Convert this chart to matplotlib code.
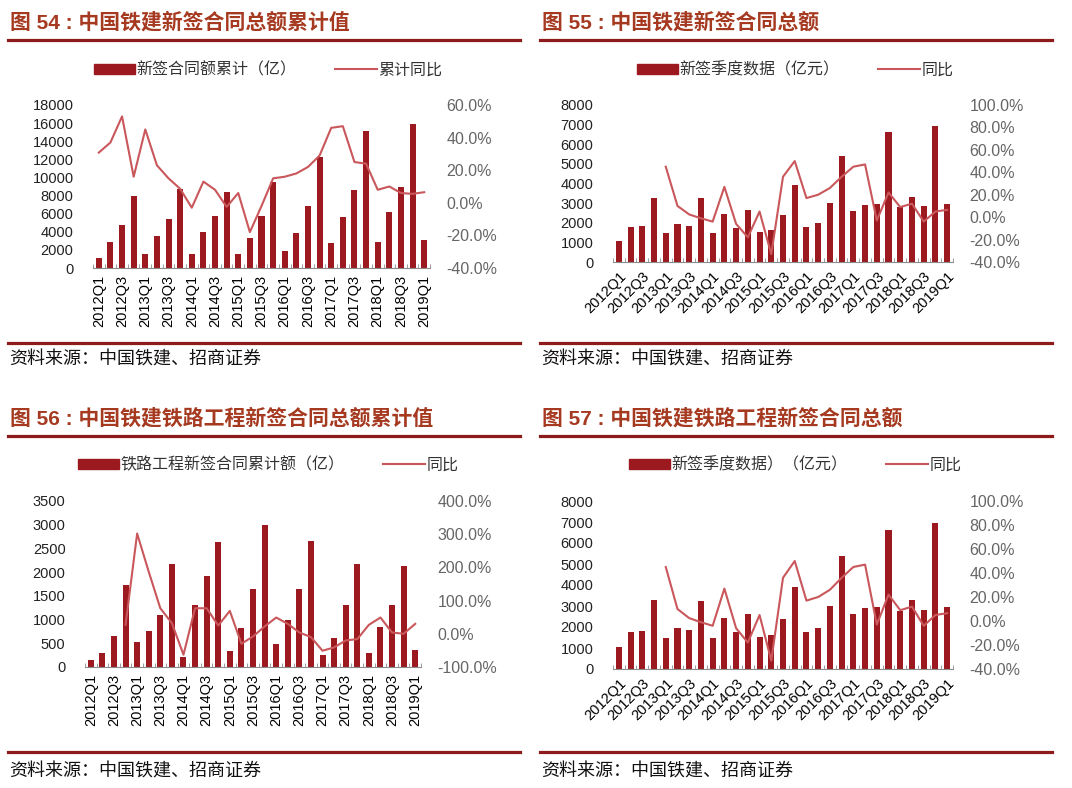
import numpy as np
import matplotlib
matplotlib.use("Agg")
import matplotlib.pyplot as plt
from matplotlib.patches import Patch
from matplotlib.lines import Line2D

plt.rcParams['font.family'] = ['Liberation Sans', 'Noto Sans CJK SC', 'DejaVu Sans']

# quarters 2012Q1 .. 2019Q1
quarters = [f"{y}Q{q}" for y in range(2012, 2020) for q in range(1, 5)][:29]

# fig 54: cumulative new contracts (亿) and cumulative yoy
cum_total = [1100, 2900, 4700, 8000, 1600, 3500, 5400, 8700, 1500, 4000, 5700, 8400,
             1600, 3300, 5700, 9500, 1900, 3900, 6900, 12300, 2750, 5600, 8600, 15100,
             2900, 6200, 9000, 15900, 3100]
cum_total_yoy = [30.8, 37, 53, 16, 45, 23, 15, 8.6, -3, 13, 8, -2.5,
                 6, -18, -2, 15, 16, 18, 22, 29, 46, 47, 25, 24,
                 8, 10, 6, 5.5, 6.5]

# fig 55 / 57: quarterly new contracts (亿元) and yoy
qtr_total = [1050, 1760, 1830, 3270, 1500, 1930, 1850, 3250, 1460, 2440, 1750, 2640,
             1530, 1610, 2390, 3920, 1760, 1970, 3020, 5390, 2610, 2900, 2930, 6600,
             2780, 3300, 2830, 6930, 2970]
qtr_total_yoy = [np.nan, np.nan, np.nan, np.nan, 45, 10, 2.4, -1, -4, 27, -6, -18,
                 5, -33, 36, 50, 17, 20, 26, 36, 45, 47, -3, 22,
                 9, 12, -4, 5, 6.5]

# fig 56: railway cumulative new contracts (亿) and yoy
rail_cum = [150, 290, 650, 1730, 520, 760, 1100, 2170, 210, 1300, 1920, 2630,
            343, 826, 1645, 3000, 483, 994, 1652, 2660, 245, 602, 1302, 2170,
            300, 847, 1302, 2135, 364]
rail_cum_yoy = [np.nan, np.nan, np.nan, 27, 302, 187, 77, 32, -63, 77, 77, 25,
                69, -30, -8, 22, 49, 30, 4, -10, -51, -41, -20, -16,
                27, 49, 4, 0, 30]

BAR = '#9C1A1F'
LINE = '#C9575B'
TITLE = '#A63A21'
RULE = '#8E1B1B'

W, H = 1072, 788
fig = plt.figure(figsize=(W / 100, H / 100), dpi=100)


def fx(x):
    return x / W


def fy(y):
    return 1 - y / H


def panel(x0, x1, y0, ytop, bars, yoy, ylim, ystep, rlim, rstep, rot, title, bar_lab, line_lab,
          px_left, title_y, rule_top, leg_x, leg_y, rule_bot, src_y):
    # title + rules
    fig.text(fx(px_left + 2), fy(title_y), title, fontsize=15, fontweight='bold', color=TITLE,
             family=['Liberation Sans', 'Noto Sans CJK SC'], va='center', ha='left')
    fig.add_artist(Line2D([fx(px_left), fx(px_left + 512)], [fy(rule_top)] * 2, color=RULE, lw=2.3))
    fig.add_artist(Line2D([fx(px_left), fx(px_left + 512)], [fy(rule_bot)] * 2, color=RULE, lw=2.3))
    fig.text(fx(px_left + 1), fy(src_y), '资料来源：中国铁建、招商证券', fontsize=13,
             family=['Noto Sans CJK SC'], va='center', ha='left', color='#111111')

    ax = fig.add_axes([fx(x0), fy(y0), fx(x1) - fx(x0), fy(ytop) - fy(y0)])
    x = np.arange(len(bars))
    ax.bar(x, bars, width=0.52, color=BAR, zorder=2)
    ax.set_xlim(-0.5, len(bars) - 0.5)
    ax.set_ylim(*ylim)
    ax.set_yticks(np.arange(ylim[0], ylim[1] + 1, ystep))
    for s in ['top', 'left', 'right']:
        ax.spines[s].set_visible(False)
    ax.spines['bottom'].set_color('#8c8c8c')
    ax.tick_params(axis='y', length=0, labelsize=10.5, pad=14, colors='#222222')
    ax.set_xticks(x[::2])
    if rot == 90:
        ax.set_xticklabels(quarters[::2], rotation=90, fontsize=10.5)
    else:
        ax.set_xticklabels(quarters[::2], rotation=45, ha='right', rotation_mode='anchor', fontsize=10.5)
    ax.set_xticks(np.arange(-0.5, len(bars), 1), minor=True)
    ax.tick_params(axis='x', which='major', length=0, pad=5)
    ax.tick_params(axis='x', which='minor', length=3, direction='in', color='#8c8c8c')

    ax2 = ax.twinx()
    ax2.plot(x, yoy, color=LINE, lw=1.5, zorder=3)
    ax2.set_ylim(*rlim)
    ax2.set_yticks(np.arange(rlim[0], rlim[1] + 0.1, rstep))
    ax2.set_yticklabels([f"{v:.1f}%" for v in np.arange(rlim[0], rlim[1] + 0.1, rstep)])
    for s in ['top', 'left', 'right', 'bottom']:
        ax2.spines[s].set_visible(False)
    ax2.tick_params(axis='y', length=0, labelsize=11.5, pad=12, colors='#666666')

    handles = [Patch(color=BAR), Line2D([0], [0], color=LINE, lw=1.5)]
    fig.legend(handles, [bar_lab, line_lab], loc='center', ncol=2, frameon=False,
               bbox_to_anchor=(fx(leg_x), fy(leg_y)),
               prop={'family': ['Noto Sans CJK SC'], 'size': 11.5},
               handlelength=2.6, handleheight=0.55, handletextpad=0.1, columnspacing=2.4,
               labelcolor='#333333')
    return ax


panel(93, 430, 268, 105, cum_total, cum_total_yoy, (0, 18000), 2000, (-40, 60), 20, 90,
      '图 54 : 中国铁建新签合同总额累计值', '新签合同额累计（亿）', '累计同比',
      8, 22, 40, 268, 70, 343, 360)
panel(613, 953, 262, 105, qtr_total, qtr_total_yoy, (0, 8000), 1000, (-40, 100), 20, 45,
      '图 55 : 中国铁建新签合同总额', '新签季度数据（亿元）', '同比',
      540, 22, 40, 795, 70, 343, 360)
panel(85, 421, 667, 501, rail_cum, rail_cum_yoy, (0, 3500), 500, (-100, 400), 100, 90,
      '图 56 : 中国铁建铁路工程新签合同总额累计值', '铁路工程新签合同累计额（亿）', '同比',
      8, 418, 436, 268, 465, 752, 772)
panel(613, 953, 669, 501, qtr_total, qtr_total_yoy, (0, 8000), 1000, (-40, 100), 20, 45,
      '图 57 : 中国铁建铁路工程新签合同总额', '新签季度数据）（亿元）', '同比',
      540, 418, 436, 795, 465, 752, 772)

fig.savefig('out.png', dpi=100)
